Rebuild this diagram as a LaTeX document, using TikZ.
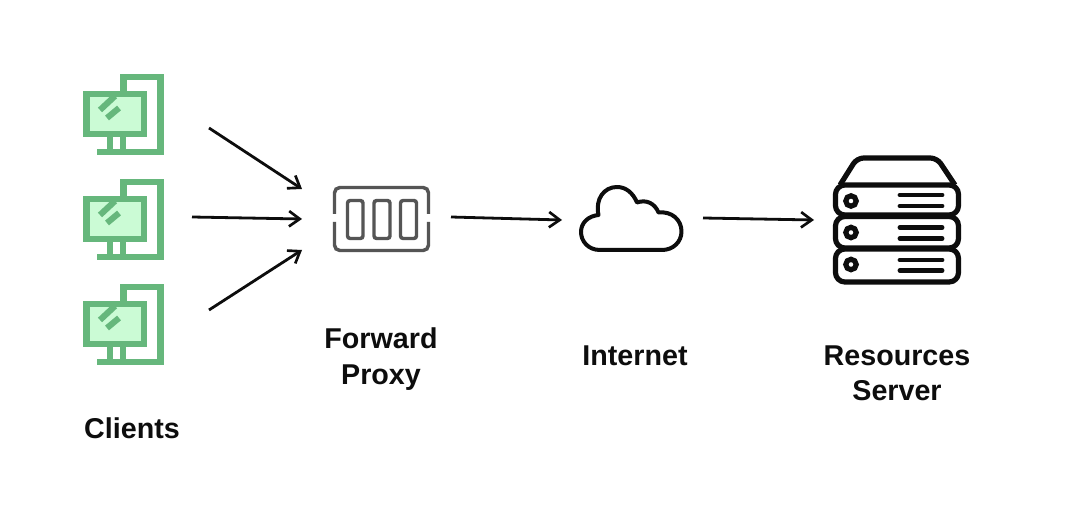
\documentclass[tikz,border=0pt]{standalone}
\usepackage{fontspec}
\setmainfont{Liberation Sans}
\usetikzlibrary{arrows.meta}
\definecolor{cgreen}{HTML}{66B77C}
\definecolor{cfill}{HTML}{CBFBD5}
\definecolor{pgray}{HTML}{555555}
\definecolor{ink}{HTML}{0D0D0D}
\tikzset{
  conn/.style={draw=ink,line width=2.1pt,-{Straight Barb[length=8pt,width=11.5pt,line width=2pt]}},
  lab/.style={font=\fontsize{21.5}{21.5}\selectfont\bfseries,text=ink,inner sep=0pt,anchor=center,align=center},
  cl/.style={draw=cgreen,line width=4.9pt},
  srv/.style={draw=ink,line width=3.9pt,line join=round},
  srvbar/.style={draw=ink,line width=3.7pt,line cap=round},
  prx/.style={draw=pgray,line width=2.6pt,rounded corners=2pt},
  pics/clienticon/.style={code={
    \draw[cl] (123.5,92) -- (123.5,77) -- (160.5,77) -- (160.5,152) -- (97,152);
    \draw[cl] (110,134) -- (110,152) (123,134) -- (123,152);
    \draw[cl,fill=cfill] (86.5,94) rectangle (144,134);
    \draw[draw=cgreen,line width=4.6pt] (100,110) -- (115,96) (107,118) -- (119,108);
  }}
}
\begin{document}
\begin{tikzpicture}[x=0.75pt,y=-0.75pt]
\useasboundingbox[fill=white] (0,0) rectangle (1092,505);
% clients
\pic at (0,0) {clienticon};
\pic at (0,105) {clienticon};
\pic at (0,210) {clienticon};
% proxy
\draw[prx,rounded corners=4pt] (334.5,214) -- (334.5,187.5) -- (428.5,187.5) -- (428.5,214);
\draw[prx,rounded corners=4pt] (334.5,222) -- (334.5,250.5) -- (428.5,250.5) -- (428.5,222);
\draw[prx] (347.5,200.5) rectangle (363,238.5);
\draw[prx] (374,200.5) rectangle (390,238.5);
\draw[prx] (400.5,200.5) rectangle (416.5,238.5);
% cloud
\draw[draw=ink,line width=3pt,line join=round,fill=white]
  (600,250) .. controls (588,250) and (581,241) .. (581,232)
  .. controls (581,223) and (588,216) .. (598.5,215)
  .. controls (595,199) and (604,187) .. (617,187)
  .. controls (626,187) and (633,193) .. (637,202.5)
  .. controls (647,199) and (655,204) .. (658.5,212.5)
  .. controls (672,211) and (681.5,220) .. (681.5,231.5)
  .. controls (681.5,242) and (673,250) .. (662,250) -- cycle;
% server
\draw[srv,rounded corners=5pt] (840,185) -- (857,158) -- (937,158) -- (955,185);
\draw[srv,rounded corners=7pt] (835.5,185) rectangle (958.5,215);
\draw[srv,rounded corners=7pt] (835.5,216.5) rectangle (958.5,248);
\draw[srv,rounded corners=7pt] (835.5,249) rectangle (958.5,282);
\foreach \cy/\a/\b in {201/195/206,232.5/227.5/238.5,264.5/260/270.5}{
  \draw[draw=ink,line width=3.9pt] (851,\cy) circle[radius=3.9pt];
  \draw[srvbar] (900,\a) -- (942,\a);
  \draw[srvbar] (900,\b) -- (942,\b);
}
% labels
\node[lab] (clients) at (132,428) {Clients};
\node[lab] (proxy) at (381,359) {Forward\\[5pt]Proxy};
\node[lab] (internet) at (635,356) {Internet};
\node[lab] (server) at (897,373.5) {Resources\\[5pt]Server};
% connector ends
\coordinate (c1) at (209,128); \coordinate (p1) at (302,189);
\coordinate (c2) at (192,217); \coordinate (p2) at (302,219);
\coordinate (c3) at (209,310); \coordinate (p3) at (302,250);
\coordinate (po) at (451,217); \coordinate (ii) at (562,220);
\coordinate (io) at (703,218); \coordinate (si) at (814,220);
\draw[conn] (c1) -- (p1);
\draw[conn] (c2) -- (p2);
\draw[conn] (c3) -- (p3);
\draw[conn] (po) -- (ii);
\draw[conn] (io) -- (si);
\end{tikzpicture}
\end{document}
